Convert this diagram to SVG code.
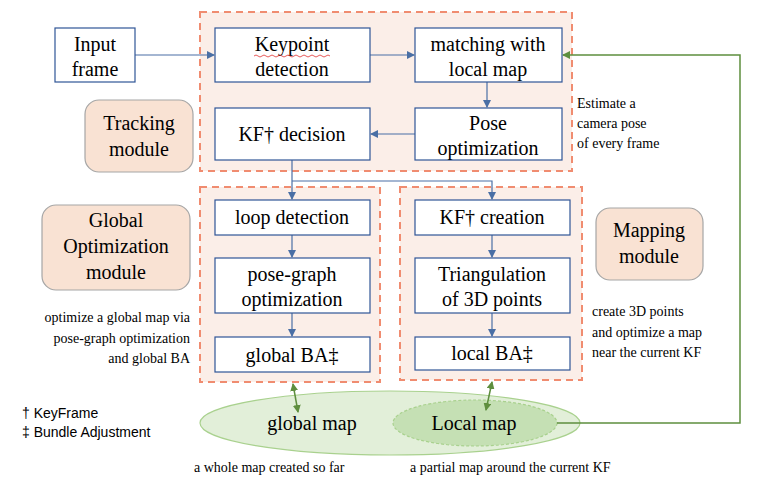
<svg xmlns="http://www.w3.org/2000/svg" width="762" height="485" viewBox="0 0 762 485">
<style>
.t{font-family:'Liberation Serif','Times New Roman',Times,serif;fill:#000}
.s{font-family:'Liberation Sans',Arial,sans-serif;fill:#000}
.box{fill:#fff;stroke:#2f5597;stroke-width:1.2}
.grp{fill:#fbeee8;stroke:#f08c70;stroke-width:2;stroke-dasharray:7,5}
.mod{fill:#f9e2d3;stroke:#a6a6a6;stroke-width:1.2}
.c{stroke:#4a6fa5;stroke-width:1.2;fill:none}
.g{stroke:#5e8e3e;stroke-width:1.5;fill:none}
</style>
<defs>
<marker id="a" markerWidth="8" markerHeight="8" refX="7" refY="4" orient="auto" markerUnits="userSpaceOnUse"><path d="M0,0L8,4L0,8z" fill="#4a6fa5"/></marker>
<marker id="ga" markerWidth="8" markerHeight="8" refX="7" refY="4" orient="auto" markerUnits="userSpaceOnUse"><path d="M0,0L8,4L0,8z" fill="#5e8e3e"/></marker>
<marker id="gs" markerWidth="8" markerHeight="8" refX="1" refY="4" orient="auto" markerUnits="userSpaceOnUse"><path d="M8,0L0,4L8,8z" fill="#5e8e3e"/></marker>
</defs>
<rect class="grp" x="200" y="12" width="372" height="159"/>
<rect class="grp" x="200" y="187" width="180" height="195"/>
<rect class="grp" x="400" y="187" width="182" height="193"/>
<g id="map">
<ellipse cx="390" cy="423" rx="190" ry="32" fill="#e2efd9" stroke="#a9d18e" stroke-width="1.2"/>
<ellipse cx="475" cy="423" rx="82" ry="23" fill="#c5e0b4" stroke="#a9d18e" stroke-width="1.2" stroke-dasharray="3,2"/>
<text class="t" font-family="Liberation Serif, serif" x="312" y="430" font-size="20" text-anchor="middle">global map</text>
<text class="t" font-family="Liberation Serif, serif" x="474" y="430" font-size="20" text-anchor="middle">Local map</text>
</g>
<g id="connectors">
<path class="c" d="M135,55H214" marker-end="url(#a)"/>
<path class="c" d="M370,55H414" marker-end="url(#a)"/>
<path class="c" d="M487,82V107" marker-end="url(#a)"/>
<path class="c" d="M415,134H371" marker-end="url(#a)"/>
<path class="c" d="M292,160V199" marker-end="url(#a)"/>
<path class="c" d="M292,181H492V199" marker-end="url(#a)"/>
<path class="c" d="M292,235V257" marker-end="url(#a)"/>
<path class="c" d="M292,313V336" marker-end="url(#a)"/>
<path class="c" d="M492,235V257" marker-end="url(#a)"/>
<path class="c" d="M492,313V336" marker-end="url(#a)"/>
<path class="g" d="M557,423H740V55H563" marker-end="url(#ga)"/>
<path class="g" d="M293,384L298,412" stroke-width="1.2" marker-start="url(#gs)" marker-end="url(#ga)"/>
<path class="g" d="M492,382L486,410" stroke-width="1.2" marker-start="url(#gs)" marker-end="url(#ga)"/>
</g>
<g id="input"><rect class="box" x="55" y="28" width="80" height="54"/><text class="t" font-family="Liberation Serif, serif" font-size="20" text-anchor="middle"><tspan x="95" y="51">Input</tspan><tspan x="95" y="76">frame</tspan></text></g>
<g id="keypoint"><rect class="box" x="215" y="28" width="155" height="54"/><text class="t" font-family="Liberation Serif, serif" font-size="20" text-anchor="middle"><tspan x="292" y="51">Keypoint</tspan><tspan x="292" y="76">detection</tspan></text><path d="M254,56q2,-2 4,0t4,0t4,0t4,0t4,0t4,0t4,0t4,0t4,0t4,0t4,0t4,0t4,0t4,0t4,0t4,0t4,0t4,0t4,0" stroke="#e03030" fill="none" stroke-width="0.8"/></g>
<g id="matching"><rect class="box" x="415" y="28" width="147" height="54"/><text class="t" font-family="Liberation Serif, serif" font-size="20" text-anchor="middle"><tspan x="488" y="51">matching with</tspan><tspan x="488" y="76">local map</tspan></text></g>
<g id="kfdecision"><rect class="box" x="215" y="108" width="155" height="52"/><text class="t" font-family="Liberation Serif, serif" x="292" y="141" font-size="20" text-anchor="middle">KF† decision</text></g>
<g id="pose"><rect class="box" x="415" y="108" width="147" height="52"/><text class="t" font-family="Liberation Serif, serif" font-size="20" text-anchor="middle"><tspan x="488" y="130">Pose</tspan><tspan x="488" y="155">optimization</tspan></text></g>
<g id="tracking"><rect class="mod" x="85" y="100" width="108" height="72" rx="14"/><text class="t" font-family="Liberation Serif, serif" font-size="20" text-anchor="middle"><tspan x="139" y="130">Tracking</tspan><tspan x="139" y="156">module</tspan></text></g>
<text class="t" font-family="Liberation Serif, serif" font-size="14"><tspan x="577" y="108">Estimate a</tspan><tspan x="577" y="128">camera pose</tspan><tspan x="577" y="148">of every frame</tspan></text>
<g id="loop"><rect class="box" x="215" y="200" width="155" height="35"/><text class="t" font-family="Liberation Serif, serif" x="292" y="224" font-size="20" text-anchor="middle">loop detection</text></g>
<g id="posegraph"><rect class="box" x="215" y="258" width="155" height="55"/><text class="t" font-family="Liberation Serif, serif" font-size="20" text-anchor="middle"><tspan x="292" y="281">pose-graph</tspan><tspan x="292" y="306">optimization</tspan></text></g>
<g id="globalba"><rect class="box" x="215" y="337" width="155" height="35"/><text class="t" font-family="Liberation Serif, serif" x="292" y="362" font-size="20" text-anchor="middle">global BA‡</text></g>
<g id="globalopt"><rect class="mod" x="42" y="205" width="148" height="85" rx="14"/><text class="t" font-family="Liberation Serif, serif" font-size="20" text-anchor="middle"><tspan x="116" y="227">Global</tspan><tspan x="116" y="253">Optimization</tspan><tspan x="116" y="279">module</tspan></text></g>
<text class="t" font-family="Liberation Serif, serif" font-size="14" text-anchor="end"><tspan x="190" y="322">optimize a global map via</tspan><tspan x="190" y="343">pose-graph optimization</tspan><tspan x="190" y="363">and global BA</tspan></text>
<g id="kfcreation"><rect class="box" x="415" y="200" width="155" height="35"/><text class="t" font-family="Liberation Serif, serif" x="492" y="224" font-size="20" text-anchor="middle">KF† creation</text></g>
<g id="triang"><rect class="box" x="415" y="258" width="155" height="55"/><text class="t" font-family="Liberation Serif, serif" font-size="20" text-anchor="middle"><tspan x="492" y="281">Triangulation</tspan><tspan x="492" y="306">of 3D points</tspan></text></g>
<g id="localba"><rect class="box" x="415" y="337" width="155" height="33"/><text class="t" font-family="Liberation Serif, serif" x="492" y="360" font-size="20" text-anchor="middle">local BA‡</text></g>
<g id="mapping"><rect class="mod" x="596" y="208" width="107" height="72" rx="14"/><text class="t" font-family="Liberation Serif, serif" font-size="20" text-anchor="middle"><tspan x="649" y="237">Mapping</tspan><tspan x="649" y="263">module</tspan></text></g>
<text class="t" font-family="Liberation Serif, serif" font-size="14"><tspan x="592" y="316">create 3D points</tspan><tspan x="592" y="337">and optimize a map</tspan><tspan x="592" y="357">near the current KF</tspan></text>
<text class="s" font-size="14"><tspan x="22" y="418">† KeyFrame</tspan><tspan x="22" y="437">‡ Bundle Adjustment</tspan></text>
<text class="t" font-family="Liberation Serif, serif" x="194" y="472" font-size="14">a whole map created so far</text>
<text class="t" font-family="Liberation Serif, serif" x="410" y="472" font-size="14">a partial map around the current KF</text>
</svg>
